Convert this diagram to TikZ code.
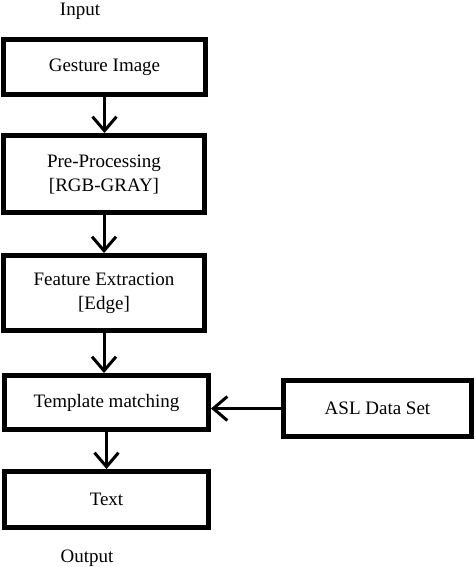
\documentclass[tikz,border=0pt]{standalone}
\usepackage{fontspec}
\setmainfont{Liberation Serif}
\usetikzlibrary{arrows.meta}
\begin{document}
\begin{tikzpicture}[x=1pt,y=-1pt,
  box/.style={draw=black,line width=5pt,fill=white,inner sep=0pt,align=center,font=\fontsize{19}{24}\selectfont},
  lbl/.style={inner sep=0pt,font=\fontsize{19}{24}\selectfont},
  arr/.style={line width=3pt,-{Straight Barb[length=14pt,width=24pt,line width=3pt]}}]
\useasboundingbox (0,0) rectangle (474,567);
\node[lbl] (in) at (80,11) {Input};
\node[box,minimum width=202pt,minimum height=55pt] (g) at (104.5,67) {Gesture Image};
\node[box,minimum width=201pt,minimum height=77pt] (p) at (104,174) {Pre-Processing\\{}[RGB-GRAY]};
\node[box,minimum width=201pt,minimum height=75pt] (f) at (104,293) {Feature Extraction\\{}[Edge]};
\node[box,minimum width=204pt,minimum height=54pt] (t) at (106.5,402.5) {Template matching\\[-20pt]};
\node[box,minimum width=204pt,minimum height=56pt] (x) at (106.5,499.5) {Text};
\node[box,minimum width=188pt,minimum height=56pt] (a) at (377.5,408.5) {ASL Data Set};
\node[lbl] (out) at (87,558) {Output};
\draw[arr] (g.south) -- (g.south |- p.north);
\draw[arr] (p.south) -- (p.south |- f.north);
\draw[arr] (f.south) -- (f.south |- t.north);
\draw[arr] (t.south) -- (t.south |- x.north);
\draw[arr] (a.west) -- (a.west -| t.east);
\end{tikzpicture}
\end{document}
